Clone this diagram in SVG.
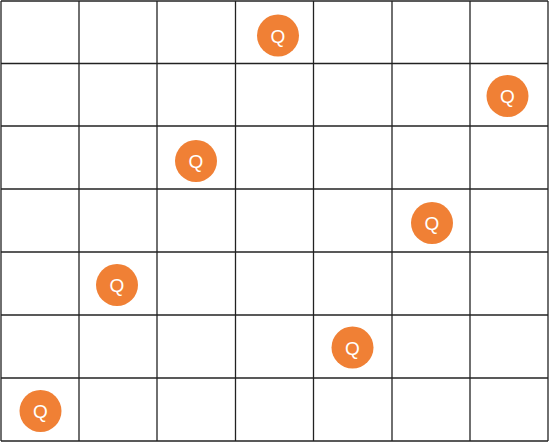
<svg xmlns="http://www.w3.org/2000/svg" width="550" height="443" viewBox="0 0 550 443">
<style>
.g line{stroke:#222;stroke-width:1.3}
.q circle{fill:#F08035}
.q text{fill:#fff;font-family:"Liberation Sans",Arial,sans-serif;font-size:19px;text-anchor:middle;dominant-baseline:central}
</style>
<rect width="550" height="443" fill="#fff"/>
<g id="grid" class="g">
<line x1="1" y1="1" x2="1" y2="441"/>
<line x1="79" y1="1" x2="79" y2="441"/>
<line x1="157" y1="1" x2="157" y2="441"/>
<line x1="235.5" y1="1" x2="235.5" y2="441"/>
<line x1="313.5" y1="1" x2="313.5" y2="441"/>
<line x1="392" y1="1" x2="392" y2="441"/>
<line x1="470" y1="1" x2="470" y2="441"/>
<line x1="548" y1="1" x2="548" y2="441"/>
<line x1="1" y1="1" x2="548" y2="1"/>
<line x1="1" y1="63.5" x2="548" y2="63.5"/>
<line x1="1" y1="126" x2="548" y2="126"/>
<line x1="1" y1="189" x2="548" y2="189"/>
<line x1="1" y1="252" x2="548" y2="252"/>
<line x1="1" y1="315" x2="548" y2="315"/>
<line x1="1" y1="378" x2="548" y2="378"/>
<line x1="1" y1="441" x2="548" y2="441"/>
</g>
<g id="q0" class="q"><circle cx="278" cy="35.5" r="21"/><text x="278" y="36">Q</text></g>
<g id="q1" class="q"><circle cx="507.5" cy="96" r="21"/><text x="507.5" y="96.5">Q</text></g>
<g id="q2" class="q"><circle cx="196" cy="161" r="21"/><text x="196" y="161.5">Q</text></g>
<g id="q3" class="q"><circle cx="432" cy="223" r="21"/><text x="432" y="223.5">Q</text></g>
<g id="q4" class="q"><circle cx="117" cy="285" r="21"/><text x="117" y="285.5">Q</text></g>
<g id="q5" class="q"><circle cx="352.5" cy="347.5" r="21"/><text x="352.5" y="348">Q</text></g>
<g id="q6" class="q"><circle cx="40.5" cy="411" r="21"/><text x="40.5" y="411.5">Q</text></g>
</svg>
